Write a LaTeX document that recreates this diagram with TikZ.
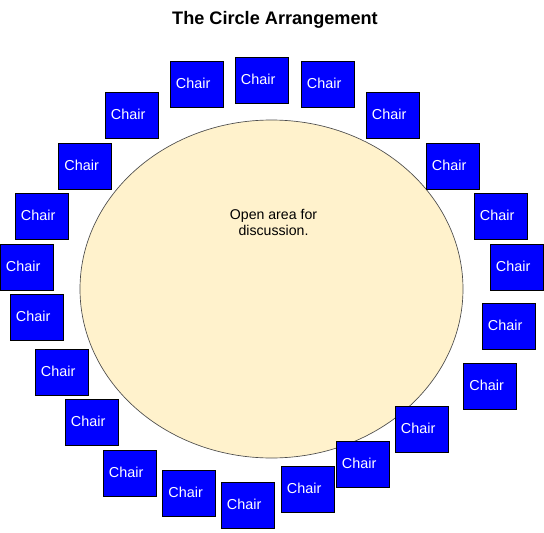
\documentclass[tikz,border=0pt]{standalone}
\usepackage{fontspec}
\setmainfont{Liberation Sans}
\usepackage{xcolor}
\usepackage{tikz}
\usetikzlibrary{shapes.geometric}
\definecolor{chairblue}{HTML}{0000FF}
\definecolor{areacream}{HTML}{FFF2CC}
\tikzstyle{chair} = [draw=black,line width=0.6pt,fill=chairblue,text=white,minimum width=39.75pt,minimum height=34.5pt,inner sep=0pt,font=\fontsize{10.8}{12}\selectfont]
\tikzstyle{area} = [ellipse,draw=black!70,line width=0.5pt,fill=areacream,minimum width=287.25pt,minimum height=253.5pt,inner sep=0pt]

\begin{document}
\begin{tikzpicture}[x=0.75pt,y=-0.75pt]
                \useasboundingbox (0,0) rectangle (544,533);
                \node[font=\bfseries\fontsize{13.6}{16}\selectfont] (title) at (275,19.5) {The Circle Arrangement};
                \node[area] (area) at (271.5,289) {};
                \node[align=center,font=\fontsize{10.6}{11.5}\selectfont] (areatext) at (273.5,222.5) {Open area for\\discussion.};
                % chairs round the open area
                \foreach \n/\x/\y in {1/261.5/80, 2/327.5/84, 3/392.5/115, 4/452.5/166, 5/500.5/216,
                        6/516.5/267, 7/508.5/326, 8/490/386, 9/421.5/429, 10/362.5/464.5, 11/307.5/489,
                        12/247.5/505, 13/189/493, 14/129.5/473, 15/91.5/422, 16/61.5/372, 17/36.5/317,
                        18/26.5/267, 19/41.5/216, 20/85/166, 21/131.5/115, 22/196.5/84}
                    \node[chair] (chair\n) at (\x,\y) {\raisebox{1.5pt}{Chair}\hspace*{5pt}};
            \end{tikzpicture}
\end{document}
